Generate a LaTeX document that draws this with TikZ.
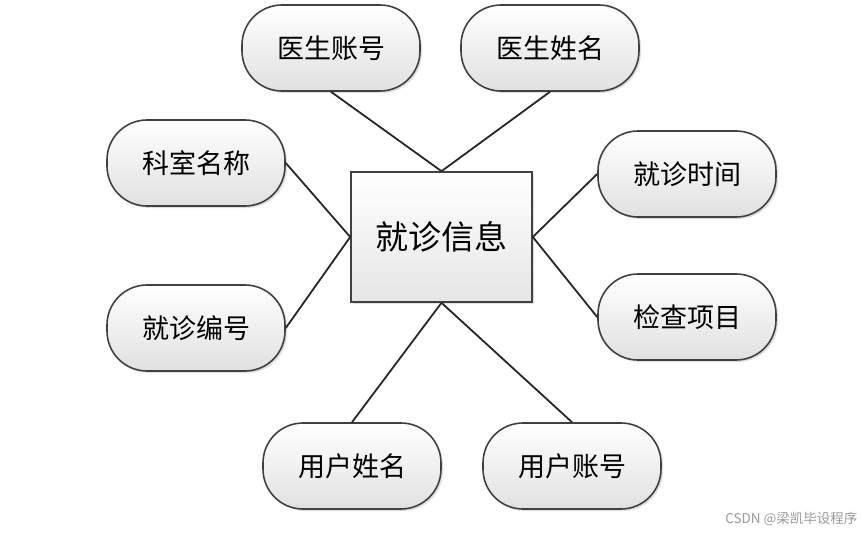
\documentclass[tikz,border=0pt]{standalone}
\usepackage{fontspec}
\newfontfamily\cjk{Noto Sans CJK SC}
\usetikzlibrary{shadows}
\begin{document}
\begin{tikzpicture}[x=1pt,y=-1pt,
  attr/.style={draw=black!75,line width=1.6pt,rounded corners=40pt,minimum width=178pt,minimum height=86pt,
    top color=white,bottom color=black!12,font=\cjk\fontsize{27}{30}\selectfont,
    drop shadow={shadow xshift=2pt,shadow yshift=-2pt,fill=black!25}},
  main/.style={draw=black!75,line width=1.6pt,minimum width=181pt,minimum height=130pt,
    top color=white,bottom color=black!10,font=\cjk\fontsize{33}{36}\selectfont,
    drop shadow={shadow xshift=2pt,shadow yshift=-2pt,fill=black!25}},
  link/.style={line width=1.8pt,draw=black!85}]
\useasboundingbox (0,0) rectangle (863,535);
\node[main] (c) at (441.5,237) {就诊信息};
\node[attr] (a1) at (331,48) {医生账号};
\node[attr] (a2) at (550,48) {医生姓名};
\node[attr] (a3) at (196,163) {科室名称};
\node[attr] (a4) at (687,174) {就诊时间};
\node[attr] (a5) at (196,328) {就诊编号};
\node[attr] (a6) at (687,317) {检查项目};
\node[attr] (a7) at (352,466) {用户姓名};
\node[attr] (a8) at (572,466) {用户账号};
\draw[link] (a1.south) -- (c.north);
\draw[link] (a2.south) -- (c.north);
\draw[link] (a3.east) -- (c.west);
\draw[link] (a5.east) -- (c.west);
\draw[link] (a4.west) -- (c.east);
\draw[link] (a6.west) -- (c.east);
\draw[link] (a7.north) -- (c.south);
\draw[link] (a8.north) -- (c.south);
\node[anchor=east,text=black!40,font=\cjk\fontsize{13.5}{15}\selectfont] (wm) at (861,519) {CSDN @梁凯毕设程序};
\end{tikzpicture}
\end{document}
